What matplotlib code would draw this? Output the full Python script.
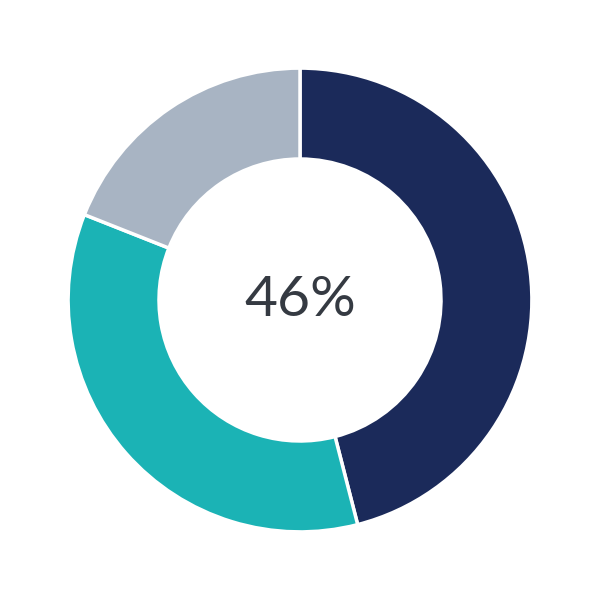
import matplotlib
matplotlib.use("Agg")
import matplotlib.pyplot as plt

# segment shares (percent), clockwise from 12 o'clock
labels = ["Navy", "Teal", "Gray"]
values = [46, 35, 19]
colors = ["#1b2a5a", "#1bb3b5", "#a8b4c3"]
center_label = "46%"

fig, ax = plt.subplots(figsize=(6, 6), dpi=100)
fig.subplots_adjust(left=0, right=1, bottom=0, top=1)

ax.pie(
    values,
    colors=colors,
    startangle=90,
    counterclock=False,
    radius=0.773,
    wedgeprops=dict(width=0.303, edgecolor="white", linewidth=2.5),
)
ax.set_xlim(-1, 1)
ax.set_ylim(-1, 1)
ax.set_aspect("equal")
ax.axis("off")

ax.text(0, 0, center_label, ha="center", va="center",
        fontsize=41, fontfamily="Lato", fontweight="normal", color="#353a42")

fig.savefig("out.png", dpi=100, facecolor="white")
